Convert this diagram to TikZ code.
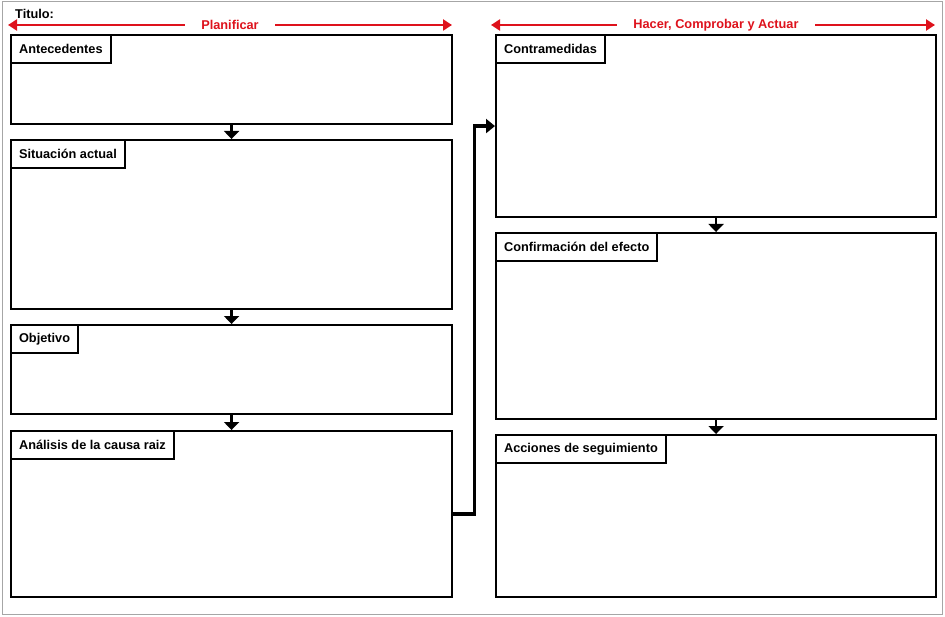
\documentclass[tikz,border=0pt]{standalone}
\usepackage{fontspec}
\setmainfont{Liberation Sans}
\usetikzlibrary{arrows.meta}
\definecolor{pdcared}{RGB}{222,18,28}
\begin{document}
\begin{tikzpicture}[x=1bp,y=-1bp,
  box/.style={draw,line width=2.1bp,anchor=north west,inner sep=0pt},
  lbl/.style={draw,line width=2.1bp,anchor=north west,inner xsep=8bp,minimum height=28bp,font=\fontsize{12.8}{14}\selectfont\bfseries},
  flow/.style={line width=2.2bp,-{Triangle[width=15bp,length=8bp]}},
  redarr/.style={draw=pdcared,line width=2.2bp,{Triangle[width=11bp,length=9bp]}-{Triangle[width=11bp,length=9bp]}},
  redtxt/.style={fill=white,text=pdcared,inner xsep=16bp,inner ysep=1bp,font=\fontsize{12.8}{14}\selectfont\bfseries}
]
\useasboundingbox (0,0) rectangle (945,617);
\draw[gray!70,line width=1bp] (2,2) rectangle (942,614);

% title
\node[anchor=west,inner sep=0pt,font=\fontsize{12.8}{14}\selectfont\bfseries] (titulo) at (15,14) {Titulo:};

% phase arrows
\coordinate (pl) at (8,25);
\coordinate (pr) at (452,25);
\draw[redarr] (pl) -- (pr);
\node[redtxt] (plan) at (230,25) {Planificar};
\coordinate (hl) at (491,25);
\coordinate (hr) at (935,25);
\draw[redarr] (hl) -- (hr);
\node[redtxt] (hacer) at (716,25) {Hacer, Comprobar y Actuar};

% left boxes
\node[box,minimum width=441bp,minimum height=89bp] (ante) at (10,34) {};
\node[box,minimum width=441bp,minimum height=169bp] (sit) at (10,139) {};
\node[box,minimum width=441bp,minimum height=89bp] (obj) at (10,324) {};
\node[box,minimum width=441bp,minimum height=166bp] (ana) at (10,430) {};

% right boxes
\node[box,minimum width=440bp,minimum height=182bp] (contra) at (495,34) {};
\node[box,minimum width=440bp,minimum height=186bp] (conf) at (495,232) {};
\node[box,minimum width=440bp,minimum height=162bp] (acc) at (495,434) {};

% labels
\node[lbl] (l1) at (ante.north west) {Antecedentes};
\node[lbl] (l2) at (sit.north west) {Situación actual};
\node[lbl] (l3) at (obj.north west) {Objetivo};
\node[lbl] (l4) at (ana.north west) {Análisis de la causa raiz};
\node[lbl] (l5) at (contra.north west) {Contramedidas};
\node[lbl] (l6) at (conf.north west) {Confirmación del efecto};
\node[lbl] (l7) at (acc.north west) {Acciones de seguimiento};

% flow arrows
\draw[flow] (ante.south) -- (sit.north);
\draw[flow] (sit.south) -- (obj.north);
\draw[flow] (obj.south) -- (ana.north);
\draw[flow] (contra.south) -- (conf.north);
\draw[flow] (conf.south) -- (acc.north);
\draw[line width=3.2bp,-{Triangle[width=14bp,length=9bp]}] (ana.east) -- ++(21,0) |- (contra.west);
\end{tikzpicture}
\end{document}
